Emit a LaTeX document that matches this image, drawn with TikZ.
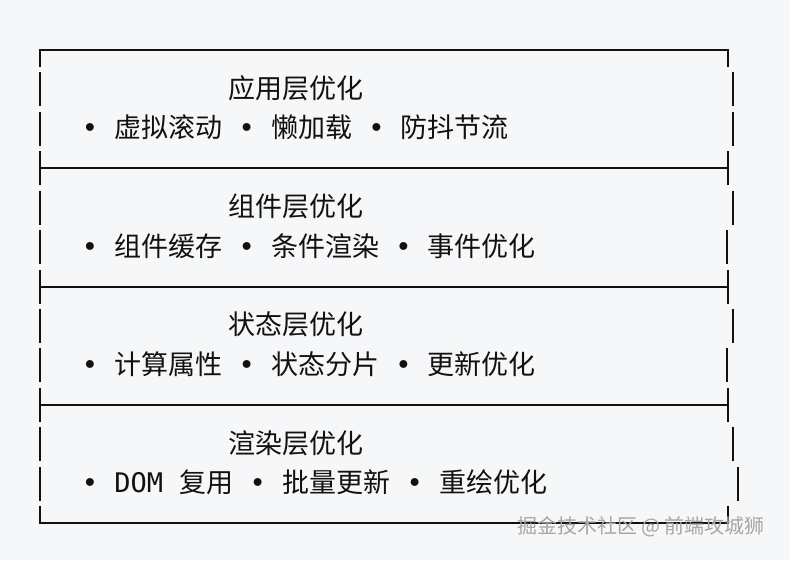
\documentclass[tikz,border=0pt]{standalone}
\usepackage{fontspec}
\newfontfamily\mono{DejaVu Sans Mono}
\newfontfamily\cjk{Noto Sans CJK SC}
\definecolor{bg}{RGB}{246,247,249}
\definecolor{ink}{RGB}{17,17,17}
\begin{document}
\begin{tikzpicture}[x=1pt,y=-1pt,
  frame/.style={line width=2pt, draw=ink},
  bar/.style={line width=2.4pt, draw=ink},
  txt/.style={anchor=base west, inner sep=0pt, font=\fontsize{27}{27}\selectfont\mono, text=ink},
  wmark/.style={inner sep=0pt, font=\fontsize{20}{20}\selectfont\cjk, text=gray!70}]
\fill[bg] (0,0) rectangle (790,560);
\useasboundingbox (0,0) rectangle (790,560);
% top and bottom borders with corners
\draw[frame] (40,67) -- (40,50) -- (728,50) -- (728,67);
\draw[frame] (40,506) -- (40,523) -- (728,523) -- (728,506);
% separators
\foreach \yy in {168,287,405} {
  \draw[frame] (40,\yy) -- (728,\yy);
  \draw[bar] (40,{\yy-17}) -- (40,{\yy+17});
  \draw[bar] (728,{\yy-17}) -- (728,{\yy+17});
}
% left text-row bars
\foreach \i in {1,2,4,5,7,8,10,11}
  \draw[bar] (40,{50+\i*39.4167-17}) -- (40,{50+\i*39.4167+17});
% right text-row bars (misaligned as in the reference)
\foreach \i/\xx in {1/733,2/733,4/733,5/727,7/733,8/727,10/733,11/738}
  \draw[bar] (\xx,{50+\i*39.4167-17}) -- (\xx,{50+\i*39.4167+17});
% section titles
\node[txt] (t1) at (228.5,{89.42+9}) {\cjk 应用层优化};
\node[txt] (t2) at (228.5,{207.67+9}) {\cjk 组件层优化};
\node[txt] (t3) at (228.5,{325.92+9}) {\cjk 状态层优化};
\node[txt] (t4) at (228.5,{444.17+9}) {\cjk 渲染层优化};
% bullet lines
\node[txt] (b1) at (81.75,{128.83+9}) {•\ \cjk 虚拟滚动\mono\ •\ \cjk 懒加载\mono\ •\ \cjk 防抖节流};
\node[txt] (b2) at (81.75,{247.08+9}) {•\ \cjk 组件缓存\mono\ •\ \cjk 条件渲染\mono\ •\ \cjk 事件优化};
\node[txt] (b3) at (81.75,{365.33+9}) {•\ \cjk 计算属性\mono\ •\ \cjk 状态分片\mono\ •\ \cjk 更新优化};
\node[txt] (b4) at (81.75,{483.58+9}) {•\ DOM\ \cjk 复用\mono\ •\ \cjk 批量更新\mono\ •\ \cjk 重绘优化};
% watermark
\node[wmark] (wm) at (641,527) {掘金技术社区 @ 前端攻城狮};
\end{tikzpicture}
\end{document}
